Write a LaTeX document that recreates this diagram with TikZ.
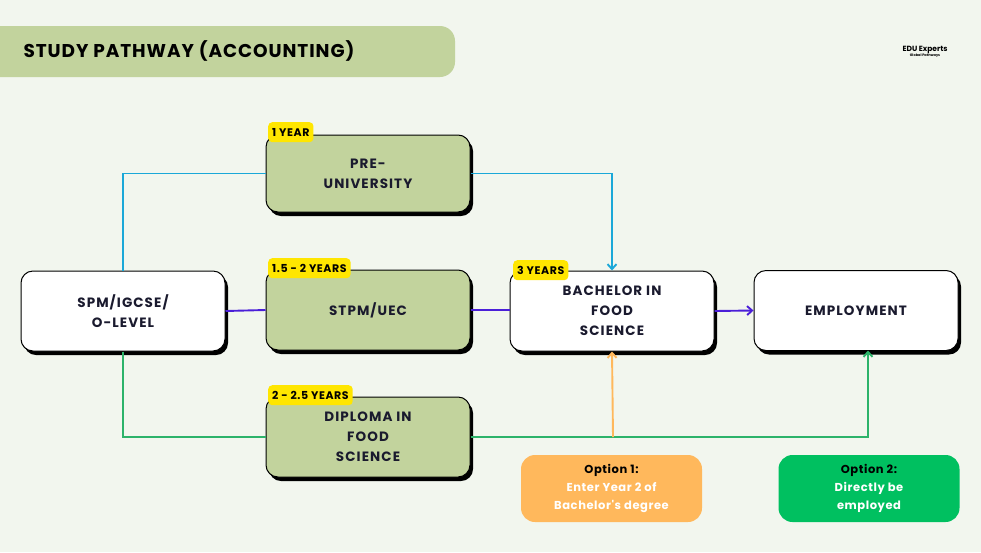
\documentclass[tikz,border=0pt]{standalone}
\usepackage{fontspec}
\setmainfont{Poppins}
\newfontfamily\wide[LetterSpace=8]{Poppins}
\newfontfamily\wider[LetterSpace=5]{Poppins}
\usetikzlibrary{arrows.meta,shadows}
\definecolor{bg}{HTML}{F2F6EE}
\definecolor{sage}{HTML}{C2D39D}
\definecolor{tagy}{HTML}{FFE600}
\definecolor{lblue}{HTML}{1BA8D8}
\definecolor{lpur}{HTML}{4B1FD8}
\definecolor{lgreen}{HTML}{2DB36A}
\definecolor{lorange}{HTML}{FFB85C}
\definecolor{ogreen}{HTML}{00C060}
\definecolor{ink}{HTML}{1A1A2E}
\tikzset{
  box/.style={draw=black,line width=1pt,rounded corners=12pt,minimum width=204pt,minimum height=80pt,align=center,
    font=\wide\bfseries\fontsize{13.5}{20}\selectfont,text=ink,inner sep=2pt,
    drop shadow={shadow xshift=3pt,shadow yshift=-4pt,fill=black,opacity=1}},
  wbox/.style={box,fill=white},
  gbox/.style={box,fill=sage},
  tag/.style={fill=tagy,rounded corners=4pt,font=\wider\bfseries\fontsize{11}{12}\selectfont,text=black,inner xsep=4pt,minimum height=20pt,anchor=north west},
  opt/.style={rounded corners=14pt,minimum width=181pt,minimum height=67pt,align=center,font=\wider\bfseries\fontsize{11.5}{18}\selectfont},
  conn/.style={line width=1.9pt},
  arr/.style={conn,-{Straight Barb[length=5pt,width=9pt]}}
}
\begin{document}
\begin{tikzpicture}[x=1pt,y=-1pt]
\fill[bg] (0,0) rectangle (981,552);
\useasboundingbox (0,0) rectangle (981,552);
\fill[sage,rounded corners=15pt] (-20,26) rectangle (455,77);
\node[anchor=west,font=\wider\bfseries\fontsize{18.5}{20}\selectfont] (title) at (20,51) {STUDY PATHWAY (ACCOUNTING)};
\node[font=\bfseries\fontsize{7.5}{8}\selectfont,align=center] (logo) at (925,52) {EDU Experts\\[-3pt]{\fontsize{3.5}{4}\selectfont Global Pathways}};
\node[wbox] (spm) at (123,311) {SPM/IGCSE/\\O-LEVEL};
\node[gbox,minimum height=77pt] (pre) at (368,173.5) {PRE-\\UNIVERSITY};
\node[gbox] (stpm) at (368,310) {STPM/UEC};
\node[gbox] (dip) at (368,437) {DIPLOMA IN\\FOOD\\SCIENCE};
\node[wbox] (bach) at (612,311) {BACHELOR IN\\FOOD\\SCIENCE};
\node[wbox] (emp) at (856,310.5) {EMPLOYMENT};
\node[tag] (t1) at (268,122) {1 YEAR};
\node[tag] (t2) at (268,258) {1.5 - 2 YEARS};
\node[tag] (t3) at (513,260) {3 YEARS};
\node[tag] (t4) at (268,385) {2 - 2.5 YEARS};
\node[opt,fill=lorange,text=white] (o1) at (611.5,488.5) {{\color{black}Option 1:}\\Enter Year 2 of\\Bachelor's degree};
\node[opt,fill=ogreen,text=white] (o2) at (869,488.5) {{\color{black}Option 2:}\\Directly be\\employed};
\coordinate (jb) at (613,437);
\coordinate (je) at (868,350.5);
\draw[conn,lblue] (spm.north) |- (pre.west);
\draw[arr,lblue] (pre.east) -| (bach.north);
\draw[conn,lpur] (spm.east) -- (stpm.west);
\draw[conn,lpur] (stpm.east) -- (bach.west |- stpm.east);
\draw[arr,lpur] (bach.east) -- (emp.west);
\draw[conn,lgreen] (spm.south) |- (dip.west);
\draw[arr,lgreen] (dip.east) -| (je);
\draw[arr,lorange] (jb) -- (bach.south);
\end{tikzpicture}
\end{document}
